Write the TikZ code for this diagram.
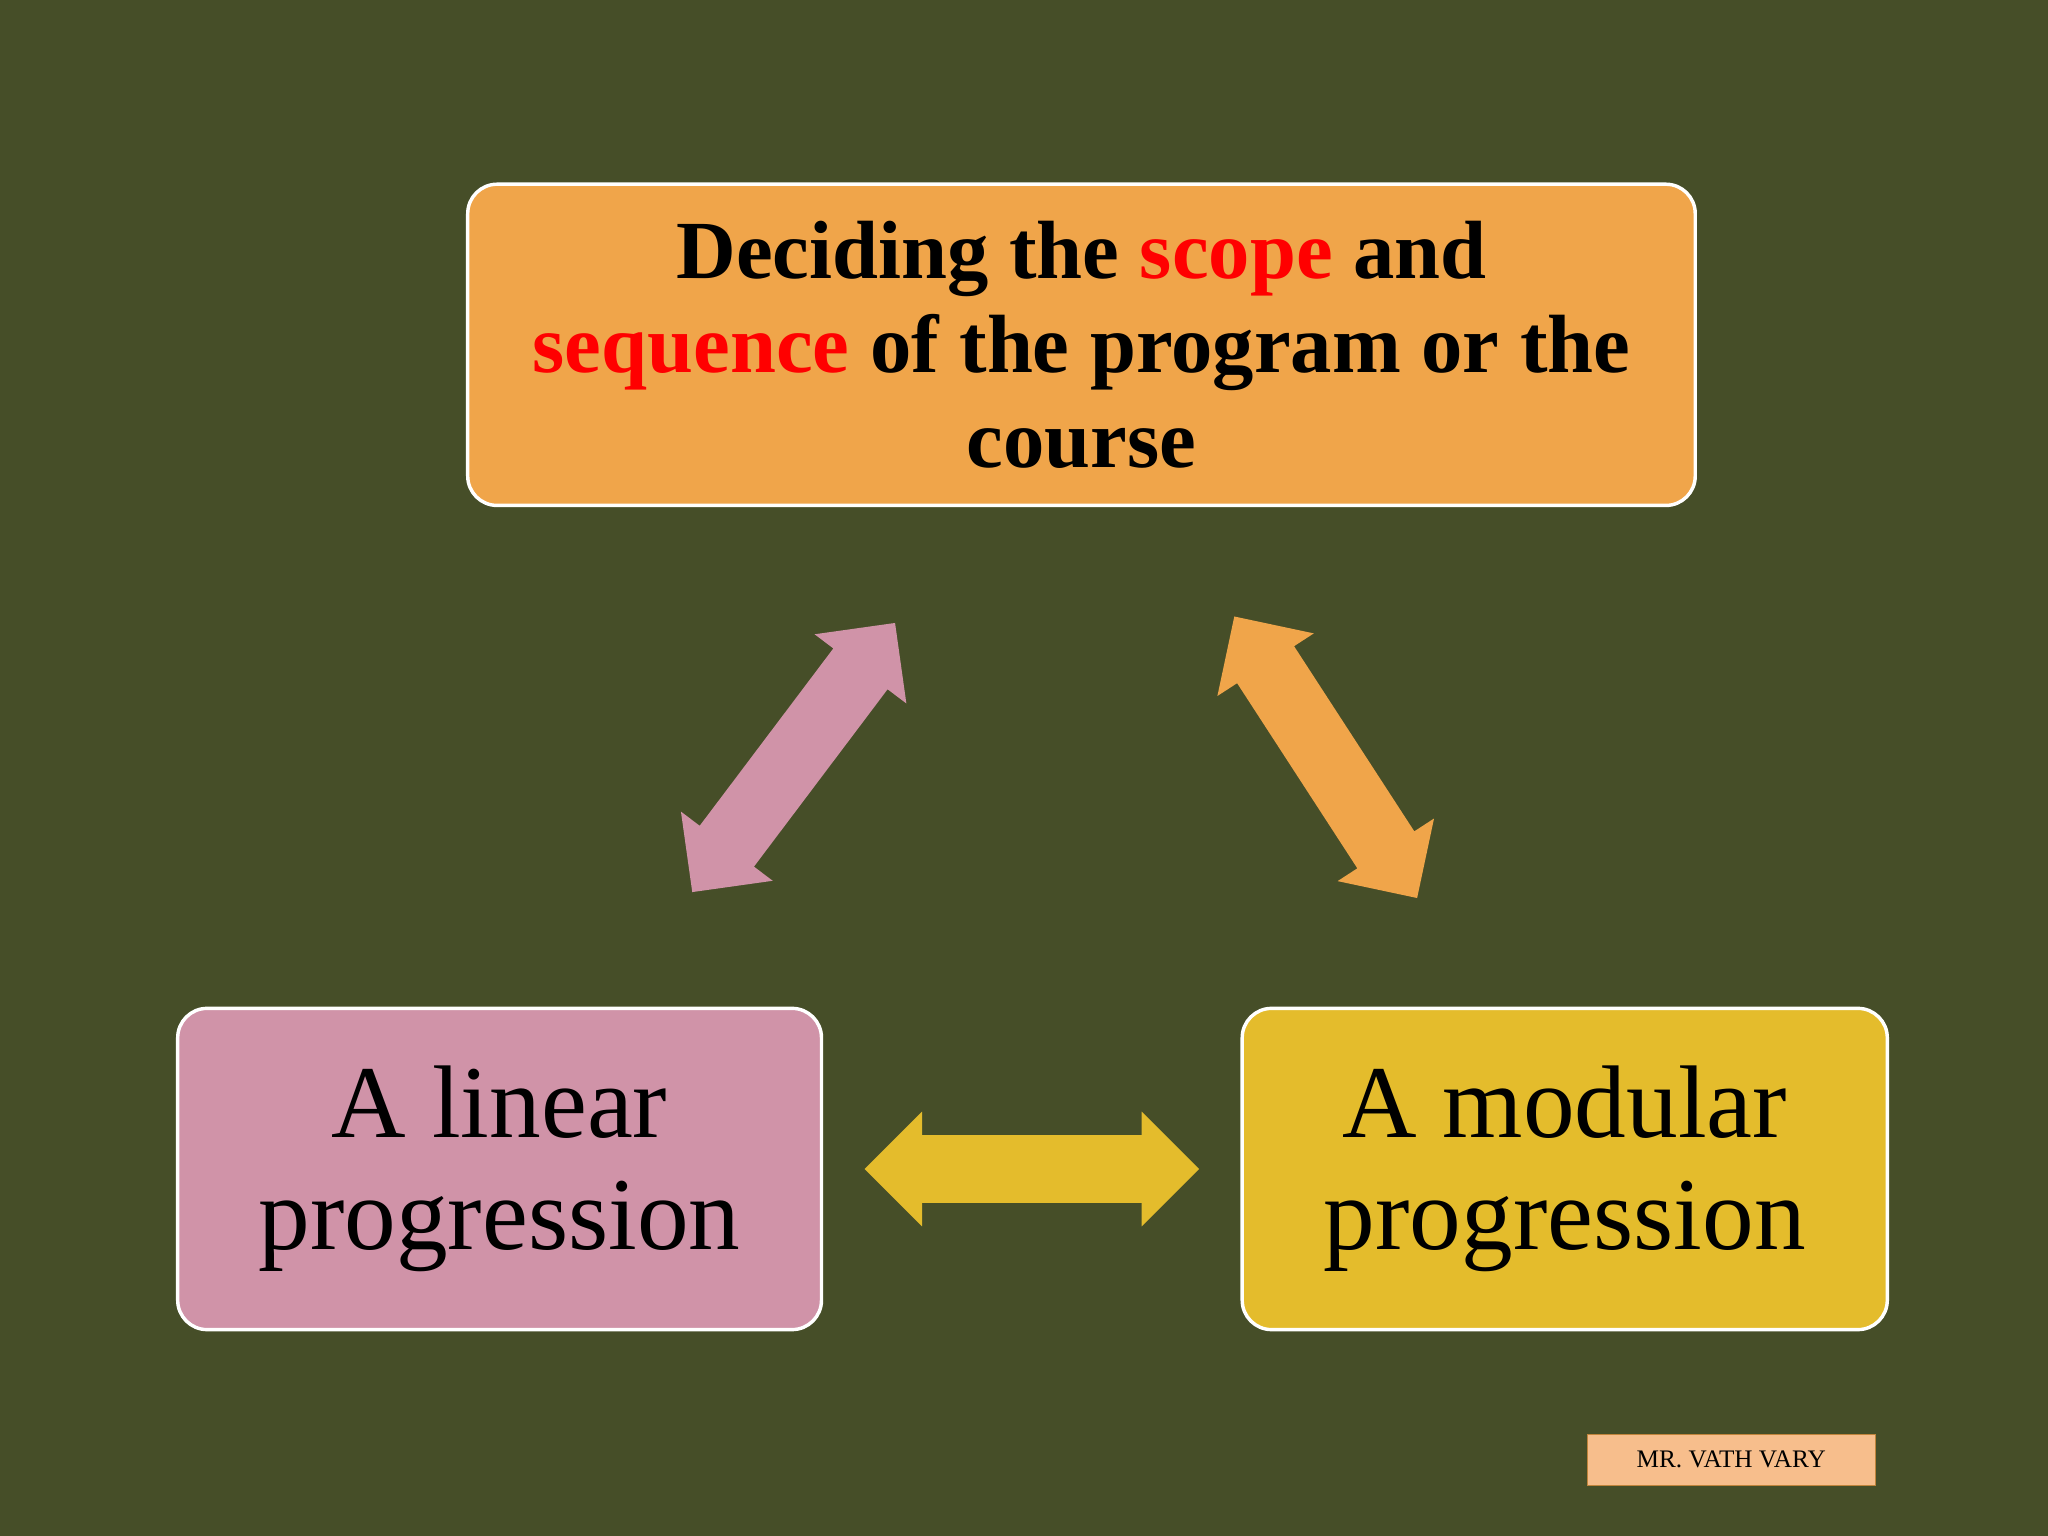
\documentclass[tikz,border=0pt]{standalone}
\usepackage{fontspec}
\setmainfont{Liberation Serif}
\definecolor{bg}{HTML}{464E28}
\definecolor{orng}{HTML}{F0A54A}
\definecolor{pnk}{HTML}{D093A8}
\definecolor{ylw}{HTML}{E4BC2C}
\definecolor{foot}{HTML}{F7BE8C}
\newcommand{\dblarrow}[5]{% x y angle length color
\begin{scope}[shift={(#1,#2)},rotate=#3]
\fill[#5] (0,0) -- (44,44) -- (44,26) -- (#4-44,26) -- (#4-44,44) -- (#4,0) -- (#4-44,-44) -- (#4-44,-26) -- (44,-26) -- (44,-44) -- cycle;
\end{scope}}
\begin{document}
\begin{tikzpicture}[x=0.02cm,y=-0.02cm,
  box/.style={draw=white,line width=1.5pt,rounded corners=0.45cm,align=center,inner sep=0pt}]
\fill[bg] (0,0) rectangle (1568,1176);
\useasboundingbox (0,0) rectangle (1568,1176);
\node[box,fill=orng,minimum width=18.8cm,minimum height=4.92cm,font=\bfseries\fontsize{36}{41}\selectfont] (top) at (828,264)
 {Deciding the \textcolor{red}{scope} and\\\textcolor{red}{sequence} of the program or the\\course};
\node[box,fill=pnk,minimum width=9.86cm,minimum height=4.92cm,font=\fontsize{45}{49}\selectfont] (lin) at (382.5,895)
 {A linear\\progression};
\node[box,fill=ylw,minimum width=9.88cm,minimum height=4.92cm,font=\fontsize{45}{49}\selectfont] (mod) at (1198,895)
 {A modular\\progression};
\node[draw=orng!80!black,fill=foot,minimum width=4.42cm,minimum height=0.78cm,inner sep=0pt,font=\fontsize{11}{12}\selectfont] (ft) at (1325.5,1117.5) {MR. VATH VARY};
\dblarrow{662}{895}{0}{256}{ylw}
\dblarrow{530}{683}{53}{258}{pnk}
\dblarrow{945}{472}{-57}{257}{orng}
\end{tikzpicture}
\end{document}
